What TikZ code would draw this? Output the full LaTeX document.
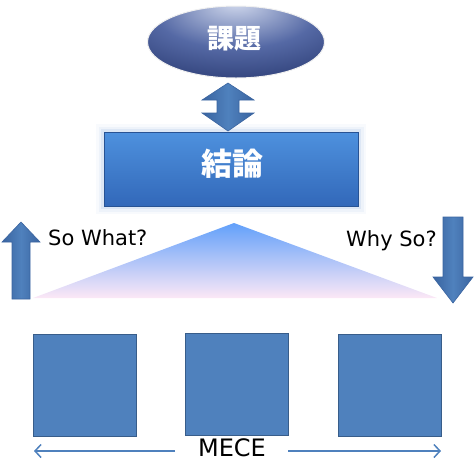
\documentclass[tikz,border=0pt]{standalone}
\usepackage{fontspec}
\setmainfont{DejaVu Sans}
\newfontfamily\jp{Noto Sans CJK JP}
\usetikzlibrary{shapes.geometric,arrows.meta}
\definecolor{sqfill}{RGB}{79,129,189}
\definecolor{sqdraw}{RGB}{56,93,138}
\definecolor{arrmid}{RGB}{79,129,189}
\definecolor{arredge}{RGB}{58,100,160}
\definecolor{boxtop}{RGB}{78,145,222}
\definecolor{boxbot}{RGB}{50,104,185}
\definecolor{glowc}{RGB}{120,160,215}
\definecolor{elllight}{RGB}{210,218,238}
\definecolor{ellmid}{RGB}{85,105,165}
\definecolor{elldark}{RGB}{34,50,105}
\definecolor{tritop}{RGB}{98,160,250}
\definecolor{tribot}{RGB}{252,232,246}
\pgfdeclareradialshading{ellshade}{\pgfpoint{0bp}{28bp}}{%
  color(0bp)=(elllight); color(22bp)=(ellmid); color(45bp)=(elldark); color(60bp)=(elldark)}
\newcommand{\lblfont}{\fontsize{21}{23}\selectfont}
\tikzset{
  sq/.style={draw=sqdraw, line width=0.8pt, fill=sqfill, minimum width=103pt, minimum height=102pt, inner sep=0pt},
  bigarrow/.style={draw=arredge, line width=0.6pt, left color=arredge, right color=arredge, middle color=arrmid},
  lbl/.style={font=\lblfont, inner sep=0pt, anchor=west},
  jptext/.style={text=white, font=\jp\bfseries\fontsize{#1}{#1}\selectfont, inner sep=0pt},
  mecearrow/.style={draw=sqfill, line width=1.5pt, -{Straight Barb[length=6pt,width=13pt,line width=1.5pt]}}
}
\begin{document}
\begin{tikzpicture}[x=1pt,y=-1pt]
\useasboundingbox (0,0) rectangle (474,467);
% triangle
\coordinate (apex) at (234,223);
\coordinate (bl) at (33,298);
\coordinate (br) at (437,298);
\shade[top color=tritop, bottom color=tribot] (apex) -- (br) -- (bl) -- cycle;
% ellipse
\node[ellipse, minimum width=177pt, minimum height=72pt, inner sep=0pt,
      shading=ellshade, draw=white!88!gray, line width=1pt] (kadai) at (236,42) {};
\node[jptext=27] (kadaitxt) at (234,39) {課題};
% conclusion box
\node[rectangle, minimum width=254pt, minimum height=74pt, inner sep=0pt,
      preaction={draw=glowc, line width=16pt, opacity=0.05},
      preaction={draw=glowc, line width=11pt, opacity=0.08},
      preaction={draw=glowc, line width=6pt, opacity=0.15},
      top color=boxtop, bottom color=boxbot, draw=boxbot!80!black, line width=0.6pt] (ketsuron) at (231,169) {};
\node[jptext=31] (ketsurontxt) at (232,164) {結論};
% double arrow between ellipse and box
\draw[bigarrow] (228,83) -- (254,100) -- (239,100) -- (239,113) -- (254,113) -- (228,131)
  -- (202,113) -- (217,113) -- (217,100) -- (202,100) -- cycle;
% up arrow
\draw[bigarrow] (21,222) -- (40,242) -- (30,242) -- (30,299) -- (12,299) -- (12,242) -- (2,242) -- cycle;
% down arrow
\draw[bigarrow] (443,217) -- (463,217) -- (463,277) -- (473,277) -- (453,303) -- (433,277) -- (443,277) -- cycle;
\node[lbl] (sowhat) at (48,238) {So What?};
\node[lbl] (whyso) at (346,241) {Why So?};
% squares
\node[sq] (s1) at (84.5,385) {};
\node[sq] (s2) at (237,384.5) {};
\node[sq] (s3) at (389.5,385) {};
% MECE
\node[font=\fontsize{24}{26}\selectfont, inner sep=0pt] (mece) at (232,448) {MECE};
\coordinate (ml) at (34,451);
\coordinate (mr) at (441,451);
\draw[mecearrow] (175,451) -- (ml);
\draw[mecearrow] (288,451) -- (mr);
\end{tikzpicture}
\end{document}
